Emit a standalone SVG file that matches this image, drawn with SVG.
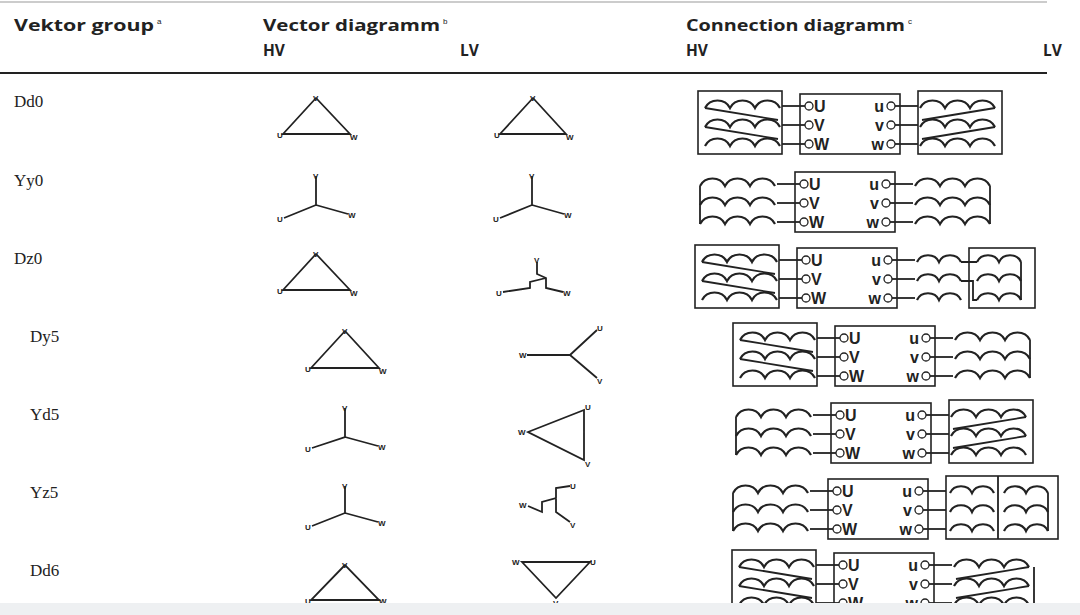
<svg xmlns="http://www.w3.org/2000/svg" width="1080" height="615" viewBox="0 0 1080 615">
<style>
.h{font-family:"Open Sans","Liberation Sans",sans-serif;font-weight:bold;font-size:15.5px;fill:#222}
.sup{font-family:"Liberation Sans",sans-serif;font-size:8px;fill:#222}
.r{font-family:"Liberation Serif",serif;font-size:17px;fill:#222}
.v{font-family:"Liberation Sans",sans-serif;font-weight:bold;font-size:8px;fill:#222}
.t{font-family:"Liberation Sans",sans-serif;font-weight:bold;font-size:16px;fill:#222}
.te{font-family:"Liberation Sans",sans-serif;font-weight:bold;font-size:16px;fill:#222;text-anchor:end}
.ln{stroke:#222;stroke-width:1.8;fill:none}
.c{stroke:#222;stroke-width:2.2;fill:none}
.bx{stroke:#222;stroke-width:1.6;fill:none}
.o{stroke:#222;stroke-width:1.3;fill:#fff}
</style>
<defs>
<path id="coil" d="M0,0 c5,-10 20,-10 25,0 c5,-10 20,-10 25,0 c5,-10 20,-10 25,0" class="c"/>
<path id="coil2" d="M0,0 c4,-9 18,-9 22,0 c4,-9 18,-9 22,0" class="c"/>
<g id="tb">
<rect x="0" y="0" width="100" height="60" class="bx"/>
<line x1="-18" y1="12" x2="5" y2="12" class="ln"/><line x1="-18" y1="31" x2="5" y2="31" class="ln"/><line x1="-18" y1="50" x2="5" y2="50" class="ln"/>
<line x1="95" y1="12" x2="118" y2="12" class="ln"/><line x1="95" y1="31" x2="118" y2="31" class="ln"/><line x1="95" y1="50" x2="118" y2="50" class="ln"/>
<circle cx="9" cy="12" r="4" class="o"/><circle cx="9" cy="31" r="4" class="o"/><circle cx="9" cy="50" r="4" class="o"/>
<circle cx="91" cy="12" r="4" class="o"/><circle cx="91" cy="31" r="4" class="o"/><circle cx="91" cy="50" r="4" class="o"/>
<text x="14" y="18" class="t">U</text><text x="14" y="37" class="t">V</text><text x="14" y="56" class="t">W</text>
<text x="84" y="18" class="te">u</text><text x="84" y="37" class="te">v</text><text x="84" y="56" class="te">w</text>
</g>
<g id="lc"><use href="#coil" x="-95" y="14"/><use href="#coil" x="-95" y="33"/><use href="#coil" x="-95" y="52"/></g>
<g id="rc"><use href="#coil" x="120" y="14"/><use href="#coil" x="120" y="33"/><use href="#coil" x="120" y="52"/></g>
<g id="ldelta"><rect x="-102" y="-3" width="84" height="63" class="bx"/><path d="M-95,14 L-22,26 M-95,33 L-22,45" class="ln"/></g>
<g id="lstar"><path d="M-95,14 V52" class="ln"/></g>
<g id="rstar"><path d="M195,14 V52" class="ln"/></g>
<g id="rdelta"><rect x="118" y="-3" width="84" height="63" class="bx"/><path d="M195,14 L122,26 M195,33 L122,45" class="ln"/></g>
</defs>
<rect x="0" y="0" width="1080" height="615" fill="#fff"/>
<line x1="0" y1="2" x2="1047" y2="2" stroke="#bbb" stroke-width="1.5"/>
<line x1="0" y1="73" x2="1047" y2="73" stroke="#222" stroke-width="2"/>
<g id="header">
<text x="14" y="31" class="h" textLength="140" lengthAdjust="spacingAndGlyphs">Vektor group</text><text x="157" y="24" class="sup">a</text>
<text x="263" y="31" class="h" textLength="177" lengthAdjust="spacingAndGlyphs">Vector diagramm</text><text x="443" y="24" class="sup">b</text>
<text x="263" y="56" class="h">HV</text><text x="460" y="56" class="h">LV</text>
<text x="686" y="31" class="h" textLength="219" lengthAdjust="spacingAndGlyphs">Connection diagramm</text><text x="908" y="24" class="sup">c</text>
<text x="686" y="56" class="h">HV</text><text x="1043" y="56" class="h">LV</text>
</g>
<g id="labels">
<text x="14" y="107" class="r">Dd0</text><text x="14" y="186" class="r">Yy0</text><text x="14" y="264" class="r">Dz0</text>
<text x="30" y="342" class="r">Dy5</text><text x="30" y="420" class="r">Yd5</text><text x="30" y="498" class="r">Yz5</text><text x="30" y="576" class="r">Dd6</text>
</g>
<g id="vectors" class="ln">
<path d="M316,98 L283,134 H350 Z"/><path d="M533,98 L500,134 H566 Z"/>
<path d="M316,176 V205 L284,218 M316,205 L348,214"/><path d="M532,176 V205 L500,218 M532,205 L564,214"/>
<path d="M316,254 L283,290 H350 Z"/><path d="M537,262 V274 L546,278 V288 L563,292 M546,278 L530,282 V288 L503,292"/>
<path d="M345,331 L311,368 H379 Z"/><path d="M527,355 L570,355 L597,330 M570,355 L597,378"/>
<path d="M345,408 V437 L312,448 M345,437 L378,446"/><path d="M528,432 L584,410 V460 Z"/>
<path d="M345,486 V513 L312,526 M345,513 L378,522"/><path d="M528,506 L542,512 V502 L556,498 V488 L570,486 M556,498 V512 L570,522"/>
<path d="M345,565 L311,600 H379 Z"/><path d="M522,562 H590 L556,598 Z"/>
</g>
<g id="vlabels">
<text x="313" y="101" class="v">V</text><text x="277" y="138" class="v">U</text><text x="350" y="140" class="v">W</text>
<text x="530" y="101" class="v">V</text><text x="494" y="138" class="v">U</text><text x="566" y="140" class="v">W</text>
<text x="313" y="179" class="v">V</text><text x="277" y="222" class="v">U</text><text x="348" y="218" class="v">W</text>
<text x="529" y="179" class="v">V</text><text x="493" y="222" class="v">U</text><text x="564" y="218" class="v">W</text>
<text x="313" y="257" class="v">V</text><text x="277" y="294" class="v">U</text><text x="350" y="296" class="v">W</text>
<text x="534" y="263" class="v">V</text><text x="496" y="296" class="v">U</text><text x="563" y="296" class="v">W</text>
<text x="342" y="334" class="v">V</text><text x="305" y="372" class="v">U</text><text x="379" y="374" class="v">W</text>
<text x="519" y="358" class="v">W</text><text x="597" y="331" class="v">U</text><text x="597" y="384" class="v">V</text>
<text x="342" y="411" class="v">V</text><text x="305" y="452" class="v">U</text><text x="378" y="450" class="v">W</text>
<text x="518" y="435" class="v">W</text><text x="585" y="410" class="v">U</text><text x="585" y="467" class="v">V</text>
<text x="342" y="489" class="v">V</text><text x="305" y="530" class="v">U</text><text x="378" y="526" class="v">W</text>
<text x="519" y="508" class="v">W</text><text x="570" y="489" class="v">U</text><text x="570" y="528" class="v">V</text>
<text x="342" y="568" class="v">V</text><text x="305" y="604" class="v">U</text><text x="379" y="604" class="v">W</text>
<text x="512" y="565" class="v">W</text><text x="590" y="565" class="v">U</text><text x="553" y="606" class="v">V</text>
</g>
<g id="conn">
<g id="c1" transform="translate(800,94)"><use href="#tb"/><use href="#lc"/><use href="#rc"/><use href="#ldelta"/><use href="#rdelta"/></g>
<g id="c2" transform="translate(795,172)"><use href="#tb"/><use href="#lc"/><use href="#rc"/><use href="#lstar"/><use href="#rstar"/></g>
<g id="c3" transform="translate(797,248)"><use href="#tb"/><use href="#lc"/><use href="#ldelta"/>
<use href="#coil2" x="120" y="14"/><use href="#coil2" x="120" y="33"/><use href="#coil2" x="120" y="52"/>
<rect x="172" y="0" width="66" height="60" class="bx"/>
<use href="#coil2" x="180" y="14"/><use href="#coil2" x="180" y="33"/><use href="#coil2" x="180" y="52"/>
<path d="M164,14 H180 M164,33 H176 V52 H180 M224,14 V33 M224,33 V52" class="ln"/></g>
<g id="c4" transform="translate(835,326)"><use href="#tb"/><use href="#lc"/><use href="#rc"/><use href="#ldelta"/><use href="#rstar"/></g>
<g id="c5" transform="translate(831,403)"><use href="#tb"/><use href="#lc"/><use href="#rc"/><use href="#lstar"/><use href="#rdelta"/></g>
<g id="c6" transform="translate(828,479)"><use href="#tb"/><use href="#lc"/><use href="#lstar"/>
<rect x="118" y="-3" width="112" height="63" class="bx"/>
<use href="#coil2" x="122" y="14"/><use href="#coil2" x="122" y="33"/><use href="#coil2" x="122" y="52"/>
<use href="#coil2" x="176" y="14"/><use href="#coil2" x="176" y="33"/><use href="#coil2" x="176" y="52"/>
<path d="M170,-3 V60 M220,14 V52" class="ln"/></g>
<g id="c7" transform="translate(834,553)"><use href="#tb"/><use href="#lc"/><use href="#rc"/><use href="#ldelta"/>
<path d="M200,14 V60 M195,14 L122,26 M195,33 L122,45" class="ln"/></g>
</g>
<rect x="0" y="603" width="1080" height="12" fill="#eef0f2"/>
</svg>
